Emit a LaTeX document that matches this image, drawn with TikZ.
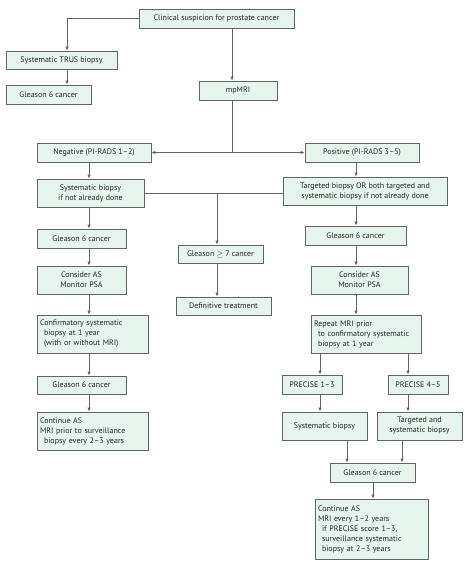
\documentclass[tikz,border=0pt]{standalone}
\usepackage{fontspec}
\setmainfont{PT Sans}
\usetikzlibrary{arrows.meta, positioning}
\definecolor{boxfill}{HTML}{E6F6EE}
\definecolor{linegray}{HTML}{636363}

\begin{document}
\begin{tikzpicture}[x=1pt, y=-1pt,
    box/.style={draw=linegray, fill=boxfill, line width=0.8pt, inner xsep=3pt, inner ysep=0pt,
                font=\fontsize{8}{10}\selectfont, text=black!85, align=center},
    lbox/.style={box, align=left, text width=#1},
    link/.style={draw=linegray, line width=0.8pt},
    arr/.style={link, -{Latex[length=4pt, width=3.5pt]}}]

    \useasboundingbox (0,0) rectangle (474,568);

    % Columns the arrows run in
    \coordinate (tcol) at (67,0);
    \coordinate (lcol) at (89,0);
    \coordinate (gcol) at (217,0);
    \coordinate (mcol) at (232,0);
    \coordinate (acol) at (320,0);
    \coordinate (ccol) at (347,0);
    \coordinate (rcol) at (356,0);
    \coordinate (ecol) at (373,0);
    \coordinate (dcol) at (402,0);
    \coordinate (bcol) at (408,0);

    % Top of the chart
    \node[box, minimum width=155pt, minimum height=19pt] (clin) at (216.5,18.5) {Clinical suspicion for prostate cancer};
    \node[box, minimum width=111pt, minimum height=18pt] (trus) at (61.5,60) {Systematic TRUS biopsy};
    \node[box, minimum width=85pt, minimum height=19pt] (g6a) at (48.5,94.5) {Gleason 6 cancer};
    \node[box, minimum width=78pt, minimum height=19pt] (mri) at (238,90.5) {mpMRI};
    \node[box, minimum width=114pt, minimum height=19pt] (neg) at (94,152.5) {Negative (PI-RADS 1–2)};
    \node[box, minimum width=114pt, minimum height=19pt] (pos) at (362,152.5) {Positive (PI-RADS 3–5)};

    % Biopsies
    \node[box, minimum width=107pt, minimum height=28pt] (sysb) at (90.5,193) {Systematic biopsy\\if not already done};
    \node[box, minimum width=164pt, minimum height=28pt] (targ) at (365,191) {Targeted biopsy OR both targeted and\\systematic biopsy if not already done};
    \node[box, minimum width=85pt, minimum height=18pt] (g7) at (220.5,254) {Gleason $\geq$ 7 cancer};
    \node[box, minimum width=95pt, minimum height=18pt] (defin) at (223.5,306) {Definitive treatment};

    % Left branch
    \node[box, minimum width=89pt, minimum height=19pt] (g6l) at (81.5,238.5) {Gleason 6 cancer};
    \node[box, minimum width=89pt, minimum height=28pt] (casl) at (81.5,280) {Consider AS\\Monitor PSA};
    \node[lbox=105pt, minimum height=38pt] (conf) at (92.5,334) {Confirmatory systematic\\\hspace*{4pt}biopsy at 1 year\\\hspace*{4pt}(with or without MRI)};
    \node[box, minimum width=89pt, minimum height=18pt] (g6l2) at (81.5,385) {Gleason 6 cancer};
    \node[lbox=105pt, minimum height=38pt] (contl) at (92.5,431) {Continue AS\\MRI prior to surveillance\\\hspace*{4pt}biopsy every 2–3 years};

    % Right branch
    \node[box, minimum width=101pt, minimum height=19pt] (g6r) at (355.5,235.5) {Gleason 6 cancer};
    \node[box, minimum width=97pt, minimum height=28pt] (casr) at (359.5,280) {Consider AS\\Monitor PSA};
    \node[lbox=104pt, minimum height=38pt] (rep) at (366,334) {Repeat MRI prior\\\hspace*{4pt}to confirmatory systematic\\\hspace*{4pt}biopsy at 1 year};
    \node[box, minimum width=60pt, minimum height=19pt] (p13) at (312,384.5) {PRECISE 1–3};
    \node[box, minimum width=60pt, minimum height=19pt] (p45) at (418,384.5) {PRECISE 4–5};
    \node[box, minimum width=85pt, minimum height=28pt] (sysr) at (324.5,426) {Systematic biopsy};
    \node[box, minimum width=85pt, minimum height=28pt] (tgs) at (419.5,426) {Targeted and\\systematic biopsy};
    \node[box, minimum width=85pt, minimum height=19pt] (g6b) at (372.5,472.5) {Gleason 6 cancer};
    \node[lbox=107pt, minimum height=60pt] (contr) at (371.5,529) {Continue AS\\MRI every 1–2 years\\\hspace*{4pt}if PRECISE score 1–3,\\\hspace*{4pt}surveillance systematic\\\hspace*{4pt}biopsy at 2–3 years};

    % Connectors
    \draw[arr] (clin.west) -| (trus.north -| tcol);
    \draw[link] (mri.south -| mcol) -- (neg.east -| mcol);
    \draw[arr] (neg.east -| mcol) -- (neg.east);
    \draw[arr] (neg.east -| mcol) -- (pos.west);
    \draw[link] (sysb.east) -- (targ.west |- sysb.east);
    \draw[arr] (sysb.east -| gcol) -- (g7.north -| gcol);

    \foreach \from/\to/\col in {trus/g6a/tcol, clin/mri/mcol, neg/sysb/lcol, sysb/g6l/lcol, g6l/casl/lcol,
        casl/conf/lcol, conf/g6l2/lcol, g6l2/contl/lcol, g7/defin/gcol, pos/targ/rcol, targ/g6r/rcol,
        g6r/casr/rcol, casr/rep/rcol, rep/p13/acol, p13/sysr/acol, rep/p45/bcol, p45/tgs/bcol,
        sysr/g6b/ccol, tgs/g6b/dcol, g6b/contr/ecol} {
        \draw[arr] (\from.south -| \col) -- (\to.north -| \col);
    }

\end{tikzpicture}
\end{document}
